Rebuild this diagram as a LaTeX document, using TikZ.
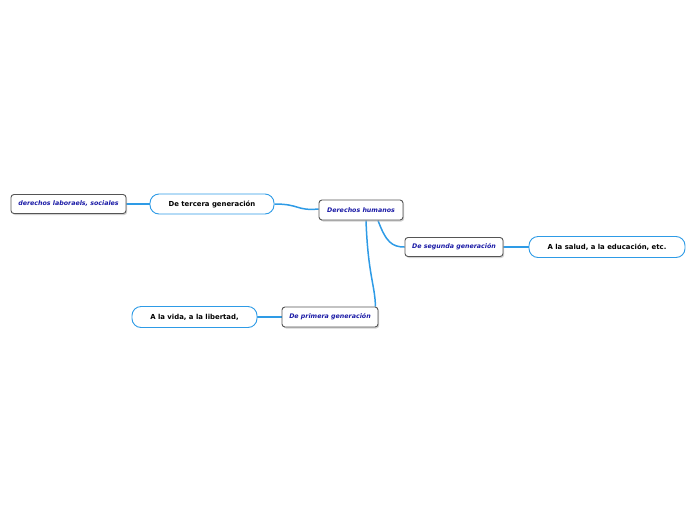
\documentclass[tikz,border=0pt]{standalone}
\usepackage{fontspec}
\setmainfont{DejaVu Sans}
\usetikzlibrary{shadows,backgrounds}
\definecolor{linkblue}{HTML}{2E9BE6}
\definecolor{txtblue}{HTML}{1A1AA6}
\definecolor{boxgray}{HTML}{555555}
\tikzset{
  graybox/.style={draw=boxgray, line width=0.9pt, fill=white, rounded corners=3pt,
    drop shadow={shadow xshift=1.2pt, shadow yshift=-1.5pt, fill=black!30, opacity=0.6},
    font=\fontsize{6.3}{7}\selectfont\bfseries\itshape, text=txtblue, inner sep=0pt},
  bluebox/.style={draw=linkblue, line width=0.9pt, fill=white, rounded corners=9pt,
    font=\fontsize{6.9}{7}\selectfont\bfseries, text=black, inner sep=0pt},
  link/.style={draw=linkblue, line width=1.5pt},
}
\begin{document}
\begin{tikzpicture}[x=1pt,y=-1pt]
\useasboundingbox (0,0) rectangle (696,520);
\node[graybox, minimum width=115pt, minimum height=19pt] (lab) at (68.5,204) {derechos laboraels, sociales};
\node[bluebox, minimum width=124pt, minimum height=20pt] (ter) at (212,204) {De tercera generación};
\node[graybox, minimum width=84pt, minimum height=20pt] (dh) at (361,210) {Derechos humanos};
\node[graybox, minimum width=98pt, minimum height=19pt] (seg) at (454,247) {De segunda generación};
\node[bluebox, minimum width=156pt, minimum height=21pt] (sal) at (607,247) {A la salud, a la educación, etc.};
\node[bluebox, minimum width=125pt, minimum height=21pt] (vida) at (194.5,317) {A la vida, a la libertad,};
\node[graybox, minimum width=96pt, minimum height=20pt] (pri) at (330,317) {De primera generación};
\coordinate (dhL) at ([yshift=1pt]dh.west);
\coordinate (dhB1) at ([xshift=5pt]dh.south);
\coordinate (dhB2) at ([xshift=17pt]dh.south);
\coordinate (priT) at ([xshift=-3pt]pri.north east);
\begin{pgfonlayer}{background}
\draw[link] (ter.east) .. controls (300,204) and (296,211) .. (dhL);
\draw[link] (dhB2) .. controls (386,242) and (392,247) .. (seg.west);
\draw[link] (dhB1) .. controls (368,275) and (375,285) .. (priT);
\draw[link] (lab.east) -- (ter.west);
\draw[link] (seg.east) -- (sal.west);
\draw[link] (pri.west) -- (vida.east);
\end{pgfonlayer}
\end{tikzpicture}
\end{document}
